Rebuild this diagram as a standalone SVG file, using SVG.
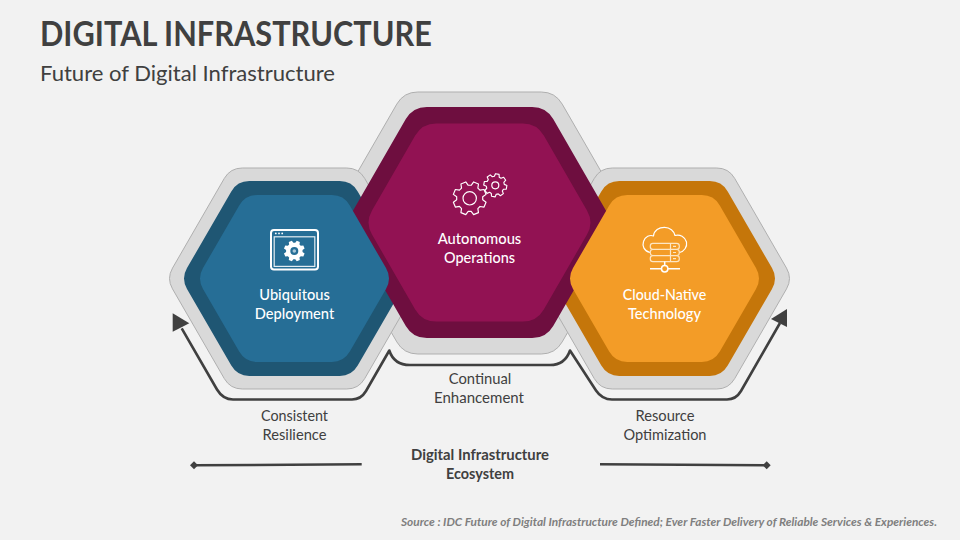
<svg xmlns="http://www.w3.org/2000/svg" width="960" height="540" viewBox="0 0 960 540">
<style>
text{font-family:"Lato","Open Sans","Liberation Sans",sans-serif}
.lab{font-size:15px;fill:#404040;text-anchor:middle}
.nl{font-size:15px;fill:#fff;text-anchor:middle;font-weight:500}
.b{font-weight:700}
.pl{fill:#d9d9d9;stroke:#afafaf;stroke-width:1}
.ln{fill:none;stroke:#404040;stroke-width:2.6;stroke-linejoin:round}
.ic{fill:none;stroke:#fff;stroke-width:1.2;stroke-linejoin:round}
</style>
<defs>
<path id="so" d="M-52.2-110.5H52.2Q64.2-110.5 70.2-100.1L122-10.4Q128 0 122 10.4L70.2 100.1Q64.2 110.5 52.2 110.5H-52.2Q-64.2 110.5-70.2 100.1L-122 10.4Q-128 0-122-10.4L-70.2-100.1Q-64.2-110.5-52.2-110.5Z"/>
<path id="sd" d="M-45.2-97.5H45.2Q57.2-97.5 63.2-87.1L107.5-10.4Q113.5 0 107.5 10.4L63.2 87.1Q57.2 97.5 45.2 97.5H-45.2Q-57.2 97.5-63.2 87.1L-107.5 10.4Q-113.5 0-107.5-10.4L-63.2-87.1Q-57.2-97.5-45.2-97.5Z"/>
<path id="si" d="M-37.3-83.5H37.3Q49.3-83.5 55.3-73.1L91.5-10.4Q97.5 0 91.5 10.4L55.3 73.1Q49.3 83.5 37.3 83.5H-37.3Q-49.3 83.5-55.3 73.1L-91.5 10.4Q-97.5 0-91.5-10.4L-55.3-73.1Q-49.3-83.5-37.3-83.5Z"/>
<path id="co" d="M-61.7-131H61.7Q75.7-131 82.7-118.9L144.3-12.1Q151.3 0 144.3 12.1L82.7 118.9Q75.7 131 61.7 131H-61.7Q-75.7 131-82.7 118.9L-144.3 12.1Q-151.3 0-144.3-12.1L-82.7-118.9Q-75.7-131-61.7-131Z"/>
<path id="cd" d="M-52.7-115.5H52.7Q66.7-115.5 73.7-103.4L126.4-12.1Q133.4 0 126.4 12.1L73.7 103.4Q66.7 115.5 52.7 115.5H-52.7Q-66.7 115.5-73.7 103.4L-126.4 12.1Q-133.4 0-126.4-12.1L-73.7-103.4Q-66.7-115.5-52.7-115.5Z"/>
<path id="ci" d="M-43.3-99H43.3Q57.3-99 64.3-86.9L107.5-12.1Q114.5 0 107.5 12.1L64.3 86.9Q57.3 99 43.3 99H-43.3Q-57.3 99-64.3 86.9L-107.5 12.1Q-114.5 0-107.5-12.1L-64.3-86.9Q-57.3-99-43.3-99Z"/>
<polygon id="gear" points=".75,-.215 .988,-.156 .988,.156 .75,.215 .682,.378 .809,.588 .588,.809 .378,.682 .215,.75 .156,.988 -.156,.988 -.215,.75 -.378,.682 -.588,.809 -.809,.588 -.682,.378 -.75,.215 -.988,.156 -.988,-.156 -.75,-.215 -.682,-.378 -.809,-.588 -.588,-.809 -.378,-.682 -.215,-.75 -.156,-.988 .156,-.988 .215,-.75 .378,-.682 .588,-.809 .809,-.588 .682,-.378"/>
</defs>
<rect width="960" height="540" fill="#f2f2f2"/>
<g id="header">
<text x="40" y="46" font-size="34" font-weight="700" fill="#404040" textLength="392" lengthAdjust="spacingAndGlyphs">DIGITAL INFRASTRUCTURE</text>
<text x="40" y="81" font-size="22" fill="#404040" textLength="295" lengthAdjust="spacingAndGlyphs">Future of Digital Infrastructure</text>
</g>
<g id="plates">
<use href="#co" class="pl" transform="translate(479.5 223)"/>
<use href="#so" class="pl" transform="translate(294.5 278.5)"/>
<use href="#so" class="pl" transform="translate(664.5 278.5)"/>
<use href="#sd" fill="#1f5673" transform="translate(294.5 278.5)"/>
<use href="#sd" fill="#c5760a" transform="translate(664.5 278.5)"/>
</g>
<g id="node-autonomous">
<use href="#cd" fill="#6e0e3f" transform="translate(479.5 222.5)"/>
<use href="#ci" fill="#921253" transform="translate(479.5 222.5)"/>
<g id="icon-gears" class="ic">
<use href="#gear" transform="translate(469.7 198.3) scale(16.8) rotate(22.5)" stroke-width=".07"/>
<circle cx="469.7" cy="198.3" r="6.7"/>
<use href="#gear" transform="translate(495.3 185.3) scale(11.6) rotate(10)" stroke-width=".1"/>
<circle cx="495.3" cy="185.3" r="3.5"/>
</g>
<text class="nl" x="479.5" y="244" textLength="83.5" lengthAdjust="spacingAndGlyphs">Autonomous</text>
<text class="nl" x="479.5" y="263" textLength="71" lengthAdjust="spacingAndGlyphs">Operations</text>
</g>
<g id="node-ubiquitous">
<use href="#si" fill="#266e96" transform="translate(294.5 278.5)"/>
<g id="icon-window">
<rect x="271" y="230" width="47" height="39.5" rx="3" fill="none" stroke="#fff" stroke-width="2"/>
<rect x="274.2" y="236.8" width="40.6" height="29.6" fill="none" stroke="#e4edf2" stroke-width="1.2"/>
<circle cx="275.8" cy="233.4" r=".9" fill="#fff"/><circle cx="279" cy="233.4" r=".9" fill="#fff"/><circle cx="282.2" cy="233.4" r=".9" fill="#fff"/>
<use href="#gear" fill="#fff" transform="translate(294.3 251) scale(10.6) rotate(22.5)"/>
<circle cx="294.3" cy="251" r="4" fill="#266e96"/>
<circle cx="294.3" cy="251" r="1.8" fill="#a9c7d8"/>
</g>
<text class="nl" x="294.5" y="300" textLength="70.5" lengthAdjust="spacingAndGlyphs">Ubiquitous</text>
<text class="nl" x="294.5" y="319" textLength="79.5" lengthAdjust="spacingAndGlyphs">Deployment</text>
</g>
<g id="node-cloud">
<use href="#si" fill="#f39c27" transform="translate(664.5 278.5)"/>
<g id="icon-cloud" class="ic">
<path d="M650 252.5C644 251 642 246 643.5 241.5C645 236.5 650 234.5 653.5 236C654 230.5 659 227.3 664.5 227.3C670 227.3 674 231 675 235.5C680 234 685 237 686.5 242C687.5 247 684 251.5 679.5 252.5"/>
<g stroke="#fde6c4" fill="#f39c27"><rect x="650.3" y="243.4" width="29" height="6" rx="2.6"/><rect x="650.3" y="249.5" width="29" height="6" rx="2.6"/><rect x="650.3" y="255.6" width="29" height="6" rx="2.6"/>
<path d="M670.5 243.4V261.6M673 246.4h3M673 252.5h3M673 258.6h3"/></g>
<path d="M664.7 261.6V265.4M650 268.7H661.4M668 268.7H680" stroke-width="1.5"/>
<circle cx="664.7" cy="268.7" r="3.2" stroke-width="1.5"/>
</g>
<text class="nl" x="664.5" y="300" textLength="83.5" lengthAdjust="spacingAndGlyphs">Cloud-Native</text>
<text class="nl" x="664.5" y="319" textLength="73" lengthAdjust="spacingAndGlyphs">Technology</text>
</g>
<g id="connectors">
<path class="ln" d="M181.7 328.3L217 389.5Q223 399.5 233 399.5H352Q361 399.5 366 391L389.3 350.5Q394 365 410 365H550Q565 365 570 350.5L596 390.5Q602 399.5 612 399.5H727Q736 399.5 741 391L780 323"/>
<polygon points="172.7,313.3 189.3,323.3 172.7,331.7" fill="#404040"/>
<polygon points="787,309 787,327 771,319" fill="#404040"/>
<path class="ln" d="M194 465.3L361.7 464.3"/>
<path class="ln" d="M600 464.3L766.7 465.3"/>
<polygon points="190,465.3 194,461.3 198,465.3 194,469.3" fill="#404040"/>
<polygon points="762.7,465.3 766.7,461.3 770.7,465.3 766.7,469.3" fill="#404040"/>
</g>
<g id="labels">
<text class="lab" x="480" y="384" textLength="62.5" lengthAdjust="spacingAndGlyphs">Continual</text>
<text class="lab" x="479" y="403" textLength="90" lengthAdjust="spacingAndGlyphs">Enhancement</text>
<text class="lab" x="294.5" y="421" textLength="67" lengthAdjust="spacingAndGlyphs">Consistent</text>
<text class="lab" x="294.5" y="440" textLength="64" lengthAdjust="spacingAndGlyphs">Resilience</text>
<text class="lab" x="665" y="421" textLength="59" lengthAdjust="spacingAndGlyphs">Resource</text>
<text class="lab" x="665" y="440" textLength="83" lengthAdjust="spacingAndGlyphs">Optimization</text>
<text class="lab b" x="480" y="460" textLength="138" lengthAdjust="spacingAndGlyphs">Digital Infrastructure</text>
<text class="lab b" x="480" y="479" textLength="68" lengthAdjust="spacingAndGlyphs">Ecosystem</text>
<text x="937" y="526" font-size="11" font-weight="700" font-style="italic" fill="#7f7f7f" text-anchor="end" textLength="536" lengthAdjust="spacingAndGlyphs">Source : IDC Future of Digital Infrastructure Defined; Ever Faster Delivery of Reliable Services &amp; Experiences.</text>
</g>
</svg>
